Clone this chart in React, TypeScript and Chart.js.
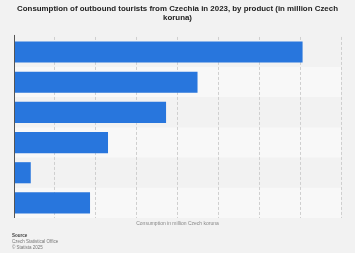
import React, { useEffect, useRef } from "react";
import { Chart, registerables } from "chart.js";

Chart.register(...registerables);

const titleLines = [
  "Consumption of outbound tourists from Czechia in 2023, by product (in million Czech",
  "koruna)",
];
const categories = [
  "Product 1",
  "Product 2",
  "Product 3",
  "Product 4",
  "Product 5",
  "Product 6",
];
const values = [70600, 44900, 37200, 23000, 4100, 18600];
const xAxisTitle = "Consumption in million Czech koruna";
const sourceLines = ["Source", "Czech Statistical Office", "© Statista 2025"];

const stripes = {
  id: "stripes",
  beforeDraw(chart: any) {
    const { ctx, chartArea } = chart;
    const y = chart.scales.y;
    const n = categories.length;
    const pitch = (chartArea.bottom - chartArea.top) / n;
    ctx.save();
    for (let i = 0; i < n; i++) {
      const c = y.getPixelForValue(i);
      ctx.fillStyle = i % 2 === 0 ? "#f2f2f2" : "#f8f8f8";
      ctx.fillRect(chartArea.left, c - pitch / 2, chartArea.right - chartArea.left, pitch);
    }
    ctx.restore();
  },
  afterDatasetsDraw(chart: any) {
    const { ctx, chartArea } = chart;
    ctx.save();
    ctx.strokeStyle = "#555555";
    ctx.lineWidth = 1;
    ctx.beginPath();
    ctx.moveTo(chartArea.left + 0.5, chartArea.top - 2);
    ctx.lineTo(chartArea.left + 0.5, chartArea.bottom);
    ctx.stroke();
    ctx.restore();
  },
  afterDraw(chart: any) {
    const { ctx } = chart;
    ctx.save();
    ctx.textBaseline = "middle";
    ctx.fillStyle = "#444444";
    ctx.font = "bold 4.5px 'Liberation Sans', Arial, sans-serif";
    ctx.fillText(sourceLines[0], 12, 236);
    ctx.font = "4.5px 'Liberation Sans', Arial, sans-serif";
    ctx.fillStyle = "#777777";
    ctx.fillText(sourceLines[1], 12, 242);
    ctx.fillText(sourceLines[2], 12, 247.5);
    ctx.restore();
  },
};

export default function App() {
  const ref = useRef<HTMLCanvasElement>(null);
  useEffect(() => {
    document.body.style.margin = "0";
    document.body.style.background = "#f2f2f2";
    const chart = new Chart(ref.current!, {
      type: "bar",
      data: {
        labels: categories,
        datasets: [
          {
            data: values,
            backgroundColor: "#2876dd",
            barPercentage: 0.7,
            categoryPercentage: 1,
          },
        ],
      },
      options: {
        indexAxis: "y",
        animation: false,
        responsive: false,
        maintainAspectRatio: false,
        layout: { padding: { left: 14, right: 14, top: 0, bottom: 26 } },
        plugins: {
          legend: { display: false },
          tooltip: { enabled: false },
          title: {
            display: true,
            text: titleLines,
            color: "#222222",
            font: { family: "'Liberation Sans', Arial, sans-serif", size: 7.9, weight: "bold" },
            padding: { top: 4, bottom: 14 },
            lineHeight: 1.4,
          },
        },
        scales: {
          x: {
            min: 0,
            max: 80000,
            ticks: { display: false, stepSize: 10000 },
            grid: {
              color: "#cfcfcf",
              drawTicks: false,
              tickLength: 0,
            },
            border: { display: false, dash: [3, 2] },
            title: {
              display: true,
              text: xAxisTitle,
              color: "#888888",
              font: { family: "'Liberation Sans', Arial, sans-serif", size: 5 },
              padding: { top: 3, bottom: 0 },
            },
          },
          y: {
            display: false,
          },
        },
      },
      plugins: [stripes],
    });
    return () => chart.destroy();
  }, []);
  return (
    <div style={{ width: 355, height: 253, background: "#f2f2f2" }}>
      <canvas ref={ref} width={355} height={253} />
    </div>
  );
}
